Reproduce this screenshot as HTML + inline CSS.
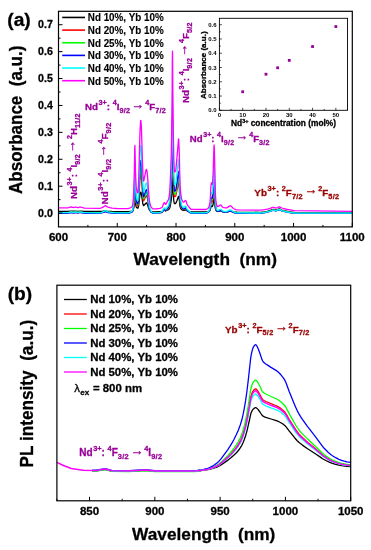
<!DOCTYPE html>
<html><head><meta charset="utf-8"><style>
html,body{margin:0;padding:0;background:#fff;width:371px;height:550px;overflow:hidden}
text{stroke-width:0.3px;paint-order:stroke;stroke-linejoin:round}
text.ni{stroke:none}
body{position:relative}
</style></head><body>
<svg width="371" height="550" viewBox="0 0 371 550" style="position:absolute;left:0;top:0">
<rect width="371" height="550" fill="#fff"/>
<clipPath id="ca"><rect x="58.5" y="11.3" width="293.8" height="215.6"/></clipPath>
<g clip-path="url(#ca)" fill="none" stroke-width="1.3" stroke-linejoin="round">
<polyline stroke="#000000" points="58.5,211.3 67.6,211.3 71.4,211.1 73.2,211.2 75.4,211.2 77.9,211.3 80.5,211.2 84.8,211.4 99.8,211.5 101.8,211.4 105.5,210.9 107.9,211.3 112.1,211.5 116.7,211.6 127.8,211.6 129.6,211.5 131.7,211.3 132.5,211.0 132.8,210.7 133.3,209.7 133.7,208.2 134.0,206.4 134.3,204.0 134.7,198.4 134.9,197.7 135.0,198.4 135.5,203.3 135.9,205.7 136.2,206.8 136.4,207.1 136.7,207.5 137.1,207.9 137.4,208.1 137.8,208.2 138.0,208.1 138.1,207.8 138.7,205.4 139.6,197.6 140.0,194.5 140.5,192.7 140.6,192.3 140.8,192.1 140.9,192.3 141.1,192.7 141.4,193.8 141.8,196.5 142.7,202.9 143.0,204.3 143.4,205.4 143.6,205.6 143.8,205.5 145.9,203.3 146.3,203.0 146.6,203.0 147.1,203.6 147.5,204.4 147.8,205.3 148.4,207.5 149.1,209.4 149.7,210.3 150.5,211.0 151.2,211.4 152.7,211.7 153.5,211.8 155.9,211.8 160.0,211.6 161.9,211.5 162.5,211.3 163.7,210.5 164.1,210.4 164.6,210.4 165.6,210.8 166.0,210.7 167.2,210.2 168.2,209.8 168.7,209.5 169.0,209.2 169.4,208.6 169.7,208.0 170.0,207.0 170.3,205.6 171.2,200.3 171.6,196.1 172.1,188.0 172.3,179.2 172.5,176.9 172.6,179.2 172.9,188.0 173.4,196.1 173.8,200.8 174.1,202.4 174.4,203.5 174.6,203.7 175.4,203.5 175.6,203.4 175.9,203.0 177.0,200.4 177.9,198.0 178.4,196.6 178.5,196.3 178.7,196.5 178.8,197.0 179.1,198.5 179.3,199.4 179.7,203.8 180.1,206.6 180.4,207.7 180.9,208.6 181.3,209.3 181.6,209.6 181.9,209.8 182.6,210.2 183.4,210.3 184.0,210.3 185.1,210.0 185.7,210.0 186.2,210.2 187.2,210.9 190.6,211.9 191.3,212.0 205.7,212.0 207.6,211.9 208.5,211.7 208.9,211.5 209.5,211.0 210.1,210.3 210.4,209.4 210.8,207.3 211.0,206.8 211.3,206.3 211.4,206.2 211.6,206.1 212.0,206.4 212.2,206.5 212.3,206.4 212.5,206.2 212.7,205.6 213.0,204.6 213.2,203.8 213.9,198.4 214.1,197.8 214.2,198.0 214.4,198.9 214.8,202.7 215.2,207.7 215.4,208.6 215.8,210.0 216.3,210.8 216.7,211.1 217.2,211.3 217.6,211.4 218.3,211.4 219.9,211.1 220.7,211.1 221.3,211.2 222.9,211.6 225.4,211.7 226.7,211.7 229.5,211.4 230.7,211.3 231.4,211.4 233.5,211.9 237.1,212.2 260.0,212.3 261.7,212.2 264.5,211.8 267.2,211.3 270.2,210.5 272.1,209.7 272.8,209.5 273.7,209.5 275.3,209.9 276.1,210.0 276.8,209.8 278.6,209.1 279.3,208.9 280.0,209.1 281.8,210.0 283.3,210.5 285.0,210.9 287.5,211.5 291.5,212.1 293.1,212.4 294.6,212.5 352.3,212.8"/>
<polyline stroke="#ff0000" points="58.5,212.6 67.6,212.7 70.5,212.3 71.4,212.3 73.2,212.5 75.4,212.3 77.9,212.5 79.8,212.3 80.5,212.3 84.8,212.7 99.8,212.7 100.7,212.6 101.8,212.4 103.5,212.1 104.9,211.6 105.5,211.5 106.1,211.6 107.9,212.2 109.9,212.4 112.1,212.6 116.7,212.7 127.8,212.8 128.6,212.7 129.6,212.5 130.9,212.2 131.7,212.0 132.5,211.4 132.8,210.8 133.3,208.8 133.7,205.9 134.0,202.5 134.3,197.7 134.7,186.8 134.9,185.3 135.0,186.7 135.5,196.3 135.9,201.1 136.2,203.3 136.4,203.8 136.7,204.5 137.1,205.3 137.4,205.7 137.7,205.9 137.8,205.9 138.0,205.7 138.1,205.1 138.7,200.5 139.6,185.1 140.0,179.0 140.5,175.4 140.6,174.6 140.8,174.3 140.9,174.6 141.1,175.4 141.4,177.6 141.8,182.9 142.4,191.8 142.7,195.4 143.0,198.2 143.4,200.5 143.6,200.8 143.7,200.7 143.8,200.6 144.1,200.1 144.7,198.7 145.9,196.2 146.2,195.8 146.3,195.7 146.5,195.6 146.6,195.7 146.8,196.0 147.1,196.8 147.5,198.4 147.8,200.1 148.4,204.5 149.1,208.1 149.4,209.2 149.7,210.0 150.5,211.2 150.9,211.8 151.2,212.0 151.9,212.4 152.7,212.6 153.5,212.8 155.9,212.7 160.0,212.5 161.0,212.3 161.9,212.1 162.2,212.0 162.5,211.7 163.7,210.3 164.1,210.0 164.3,210.0 164.6,210.1 165.6,210.7 165.7,210.8 166.0,210.7 167.2,209.6 168.2,208.9 168.7,208.3 169.0,207.7 169.4,206.5 169.7,205.3 170.0,203.2 170.3,200.5 171.2,190.1 171.6,181.9 172.1,166.0 172.3,148.8 172.5,144.2 172.6,148.8 172.9,166.0 173.4,181.9 173.8,191.1 174.1,194.3 174.4,196.4 174.6,196.7 175.0,196.6 175.4,196.4 175.6,196.2 175.9,195.4 177.0,190.2 177.9,185.5 178.4,182.8 178.5,182.3 178.7,182.6 178.8,183.5 179.1,186.4 179.3,188.3 179.7,196.9 180.1,202.4 180.4,204.6 180.9,206.4 181.3,207.7 181.6,208.3 181.9,208.7 182.6,209.4 183.4,209.7 183.7,209.7 184.0,209.7 185.1,209.1 185.4,209.0 185.7,209.0 186.2,209.4 186.9,210.5 187.2,210.8 188.1,211.4 190.6,212.7 191.3,212.8 205.7,212.9 206.6,212.8 207.6,212.5 208.5,212.1 208.9,211.7 209.5,210.8 210.1,209.4 210.4,207.5 210.8,203.4 211.0,202.6 211.3,201.6 211.4,201.3 211.6,201.2 212.0,201.8 212.2,201.9 212.3,201.8 212.5,201.4 212.7,200.1 213.0,198.3 213.2,196.6 213.9,185.9 214.1,184.8 214.2,185.2 214.4,187.0 214.8,194.5 215.2,204.2 215.4,206.0 215.8,208.7 216.3,210.3 216.4,210.6 216.7,211.0 217.2,211.3 217.6,211.5 218.3,211.4 219.9,210.9 220.7,210.8 221.3,211.0 222.4,211.7 222.9,211.8 225.4,212.1 226.7,212.0 229.5,211.3 230.7,211.2 231.4,211.4 232.9,212.1 233.5,212.3 235.5,212.7 237.1,212.9 259.9,212.9 262.4,212.7 265.2,212.3 267.2,211.9 270.2,211.0 272.1,210.3 272.8,210.1 273.7,210.0 275.3,210.5 276.1,210.6 276.8,210.4 278.6,209.6 279.3,209.5 280.0,209.7 281.8,210.6 283.3,211.0 285.0,211.4 287.5,212.0 291.5,212.6 293.1,212.9 294.6,213.0 352.3,213.1"/>
<polyline stroke="#00ff00" points="58.5,212.6 67.6,212.6 70.5,212.2 71.4,212.2 73.2,212.4 75.4,212.2 77.9,212.4 79.8,212.2 80.5,212.2 83.8,212.6 84.8,212.7 99.8,212.7 100.7,212.6 101.8,212.4 103.5,212.0 104.9,211.4 105.5,211.4 106.1,211.4 107.9,212.1 109.9,212.4 112.1,212.5 116.7,212.7 127.8,212.8 128.6,212.7 129.6,212.5 130.9,212.1 131.7,211.8 132.1,211.5 132.5,211.2 132.8,210.5 133.3,208.2 133.7,204.7 134.0,200.7 134.3,195.1 134.7,182.4 134.9,180.7 135.0,182.3 135.5,193.5 135.9,199.1 136.2,201.7 136.4,202.3 136.7,203.2 137.1,204.1 137.4,204.5 137.7,204.7 137.8,204.7 138.0,204.5 138.1,203.8 138.7,198.4 139.6,180.5 140.0,173.3 140.5,169.1 140.6,168.2 140.8,167.9 140.9,168.2 141.1,169.1 141.4,171.6 141.8,177.8 142.4,188.3 142.7,192.5 143.0,195.7 143.4,198.4 143.6,198.7 143.7,198.7 143.8,198.5 144.1,197.9 144.7,196.3 145.9,193.4 146.2,192.9 146.3,192.8 146.5,192.7 146.6,192.9 146.8,193.1 147.1,194.1 147.5,195.9 147.8,198.0 148.4,203.2 149.1,207.3 149.4,208.6 149.7,209.5 150.5,211.0 150.9,211.6 151.2,211.9 151.9,212.3 152.7,212.6 153.5,212.8 155.9,212.7 160.0,212.4 161.0,212.3 161.9,212.0 162.2,211.8 162.5,211.5 163.7,209.9 164.1,209.5 164.3,209.5 164.6,209.6 165.3,210.2 165.6,210.4 165.7,210.4 166.0,210.3 166.3,210.1 167.2,209.0 168.2,208.2 168.7,207.5 169.0,206.8 169.4,205.4 169.7,204.0 170.0,201.6 170.3,198.4 171.2,186.2 171.6,176.7 172.1,158.1 172.3,138.0 172.5,132.6 172.6,138.0 172.9,158.1 173.4,176.7 173.8,187.4 174.1,191.2 174.4,193.6 174.6,194.0 175.0,193.9 175.4,193.6 175.6,193.4 175.9,192.4 177.0,186.4 177.9,180.9 178.4,177.7 178.5,177.2 178.7,177.5 178.8,178.6 179.1,182.0 179.3,184.2 179.7,194.2 180.1,200.6 180.4,203.2 180.9,205.3 181.3,206.9 181.6,207.6 181.9,208.0 182.6,208.8 183.1,209.1 183.4,209.2 183.7,209.2 184.0,209.2 185.1,208.5 185.4,208.4 185.7,208.4 186.2,208.8 186.9,210.1 187.2,210.4 188.1,211.1 190.6,212.7 191.0,212.8 191.3,212.8 205.7,212.9 206.6,212.7 207.6,212.4 208.5,212.0 208.9,211.5 209.5,210.5 210.1,208.9 210.4,206.6 210.8,201.8 211.0,200.9 211.3,199.7 211.4,199.3 211.6,199.3 212.0,199.9 212.2,200.1 212.3,199.9 212.5,199.5 212.7,198.0 213.0,195.8 213.2,193.8 213.9,181.4 214.1,180.1 214.2,180.6 214.4,182.6 214.8,191.3 215.2,202.7 215.4,204.9 215.8,208.0 216.3,209.9 216.4,210.2 216.7,210.7 217.2,211.1 217.6,211.3 218.3,211.2 219.9,210.6 220.7,210.5 221.3,210.7 222.4,211.5 222.9,211.7 225.4,211.9 226.1,211.9 226.7,211.9 229.5,211.0 230.1,210.9 230.7,210.9 231.4,211.1 232.9,212.0 233.5,212.2 235.5,212.7 237.1,212.9 259.9,212.9 262.4,212.7 265.2,212.3 267.2,211.9 270.2,211.0 272.1,210.3 272.8,210.1 273.7,210.0 275.3,210.5 276.1,210.6 276.8,210.4 278.6,209.6 279.3,209.5 280.0,209.7 281.8,210.6 283.3,211.0 285.0,211.4 287.5,212.0 291.5,212.6 293.1,212.9 294.6,213.0 352.3,213.1"/>
<polyline stroke="#0000ff" points="58.5,213.3 67.6,213.3 68.5,213.2 70.5,212.8 71.4,212.7 73.2,213.0 75.4,212.7 76.0,212.7 77.9,213.0 79.8,212.7 80.5,212.7 81.6,212.8 83.8,213.2 84.8,213.3 99.8,213.3 100.7,213.2 101.8,212.9 103.5,212.4 104.9,211.8 105.5,211.7 106.1,211.8 107.4,212.4 107.9,212.5 109.9,212.9 112.1,213.1 116.7,213.3 127.8,213.3 128.6,213.2 129.6,213.0 130.9,212.6 131.7,212.2 132.1,211.9 132.5,211.4 132.8,210.6 133.3,207.9 133.7,203.9 134.0,199.2 134.3,192.6 134.7,177.6 134.9,175.6 135.0,177.5 135.5,190.7 135.9,197.3 136.2,200.3 136.4,201.0 136.7,202.0 137.1,203.1 137.4,203.6 137.7,203.8 137.8,203.9 138.0,203.6 138.1,202.8 138.7,196.5 139.6,175.4 140.0,167.0 140.5,162.0 140.6,161.0 140.8,160.5 140.9,161.0 141.1,162.0 141.4,165.0 141.8,172.3 142.4,184.5 142.7,189.5 143.0,193.3 143.4,196.4 143.6,196.8 143.7,196.8 143.8,196.6 144.1,195.8 144.7,193.9 145.9,190.5 146.2,189.9 146.3,189.8 146.5,189.7 146.6,189.9 146.8,190.2 147.1,191.3 147.5,193.5 147.8,195.9 148.4,202.0 149.1,206.8 149.4,208.3 149.7,209.4 150.5,211.2 150.9,211.9 151.2,212.2 151.9,212.7 152.7,213.1 153.5,213.3 155.9,213.2 160.0,212.9 161.0,212.6 161.9,212.3 162.2,212.1 162.5,211.8 163.7,209.8 164.1,209.5 164.3,209.4 164.6,209.5 165.3,210.2 165.6,210.4 165.7,210.5 166.0,210.3 166.3,210.0 167.2,208.9 168.2,207.8 168.7,207.1 169.0,206.3 169.4,204.6 169.7,202.9 170.0,200.1 170.3,196.4 171.2,182.0 171.6,170.9 172.1,149.1 172.3,125.4 172.5,119.1 172.6,125.4 172.9,149.1 173.4,170.9 173.8,183.5 174.1,187.9 174.4,190.7 174.6,191.2 175.0,191.0 175.4,190.7 175.6,190.4 175.9,189.3 177.0,182.2 177.9,175.8 178.4,172.0 178.5,171.4 178.7,171.7 178.8,173.0 179.1,177.1 179.3,179.7 179.7,191.4 180.1,199.0 180.4,202.0 180.9,204.5 181.3,206.3 181.6,207.1 181.9,207.6 182.6,208.5 183.1,208.9 183.4,209.0 183.7,209.1 184.0,209.0 185.1,208.2 185.4,208.0 185.7,208.0 185.9,208.2 186.2,208.6 186.9,210.0 187.2,210.5 188.1,211.3 190.6,213.1 191.0,213.2 191.3,213.3 205.7,213.3 206.6,213.1 207.6,212.7 208.5,212.2 208.9,211.7 209.5,210.5 210.1,208.6 210.4,206.0 210.8,200.3 211.0,199.2 211.3,197.8 211.4,197.4 211.6,197.3 212.0,198.1 212.2,198.2 212.3,198.0 212.5,197.5 212.7,195.8 213.0,193.2 213.2,190.9 213.9,176.3 214.1,174.7 214.2,175.4 214.4,177.7 214.8,188.0 215.2,201.4 215.4,203.9 215.8,207.5 216.3,209.7 216.4,210.2 216.7,210.7 217.2,211.1 217.6,211.4 217.9,211.4 218.3,211.3 219.9,210.6 220.7,210.5 221.0,210.5 221.3,210.7 222.4,211.6 222.9,211.8 224.1,212.0 225.4,212.1 226.1,212.2 226.7,212.1 229.5,211.1 230.1,211.0 230.7,210.9 231.4,211.2 232.9,212.2 233.5,212.5 235.5,213.0 237.1,213.3 259.8,213.3 262.3,213.0 265.2,212.6 267.1,212.2 270.2,211.4 272.1,210.6 272.8,210.4 273.7,210.4 275.3,210.8 276.1,210.9 276.8,210.7 278.6,209.9 279.3,209.8 280.0,210.0 281.8,210.9 283.3,211.3 285.0,211.7 287.5,212.3 291.5,212.9 293.1,213.1 294.6,213.3 352.3,213.3"/>
<polyline stroke="#00ffff" points="58.5,212.7 67.6,212.7 68.5,212.6 70.5,212.1 71.4,212.0 73.2,212.4 75.4,212.0 76.0,212.0 77.3,212.3 77.9,212.4 78.5,212.3 79.8,212.0 80.5,212.0 81.6,212.1 83.8,212.6 84.8,212.7 99.8,212.8 100.7,212.6 101.8,212.3 103.5,211.7 104.9,210.8 105.5,210.7 106.1,210.9 107.4,211.6 107.9,211.8 109.9,212.2 112.1,212.5 114.6,212.7 116.7,212.8 127.8,212.8 128.6,212.7 129.6,212.4 130.9,211.9 131.7,211.4 132.1,211.0 132.5,210.4 132.8,209.4 133.3,205.9 133.7,200.8 134.0,194.8 134.3,186.3 134.7,167.3 134.9,164.7 135.0,167.1 135.5,183.9 135.9,192.4 136.2,196.2 136.4,197.2 136.7,198.4 137.1,199.8 137.4,200.4 137.7,200.7 137.8,200.8 138.0,200.4 138.1,199.4 138.7,191.3 139.6,164.4 140.0,153.6 140.5,147.3 140.6,146.0 140.8,145.4 140.9,146.0 141.1,147.3 141.4,151.1 141.8,160.4 142.4,176.1 142.7,182.4 143.0,187.2 143.4,191.2 143.6,191.7 143.7,191.7 143.8,191.4 144.1,190.5 144.7,188.1 145.9,183.7 146.2,183.0 146.3,182.8 146.5,182.8 146.6,182.9 146.8,183.4 147.1,184.7 147.5,187.6 147.8,190.6 148.4,198.4 149.1,204.6 149.4,206.5 149.7,207.9 150.5,210.1 150.9,211.0 151.2,211.5 151.9,212.1 152.7,212.6 153.1,212.7 153.5,212.8 155.9,212.8 158.0,212.6 160.0,212.3 161.0,212.0 161.9,211.6 162.2,211.4 162.5,210.9 163.7,208.4 164.1,207.9 164.3,207.9 164.6,208.0 165.3,208.9 165.6,209.2 165.7,209.2 166.0,209.1 166.3,208.7 167.2,207.2 168.2,205.9 168.7,204.9 169.0,203.9 169.4,201.7 169.7,199.6 170.0,196.1 170.3,191.2 171.2,173.0 171.6,158.7 172.1,130.8 172.3,100.6 172.5,92.6 172.6,100.6 172.9,130.8 173.4,158.7 173.8,174.8 174.1,180.4 174.4,184.0 174.6,184.6 175.0,184.4 175.4,184.0 175.6,183.7 175.9,182.2 177.0,173.2 177.9,165.0 178.4,160.2 178.5,159.4 178.7,159.8 178.8,161.5 179.1,166.6 179.3,169.9 179.7,184.9 180.1,194.6 180.4,198.4 180.9,201.6 181.3,203.9 181.6,205.0 181.9,205.6 182.6,206.8 183.1,207.2 183.4,207.4 183.7,207.5 184.0,207.4 185.1,206.3 185.4,206.2 185.7,206.2 185.9,206.3 186.2,206.9 186.9,208.7 187.2,209.3 188.1,210.3 190.6,212.6 191.0,212.8 191.3,212.9 205.7,212.9 206.6,212.7 207.6,212.2 208.5,211.6 208.9,210.9 209.5,209.3 210.1,206.9 210.4,203.6 210.8,196.3 211.0,194.9 211.3,193.1 211.4,192.6 211.6,192.5 212.0,193.5 212.2,193.7 212.3,193.4 212.5,192.8 212.7,190.5 213.0,187.3 213.2,184.4 213.9,165.7 214.1,163.7 214.2,164.5 214.4,167.5 214.8,180.6 215.2,197.7 215.4,200.9 215.8,205.5 216.3,208.4 216.4,208.9 216.7,209.6 217.2,210.2 217.6,210.5 217.9,210.5 218.3,210.4 219.9,209.5 220.4,209.3 220.7,209.3 221.0,209.4 221.3,209.6 222.4,210.8 222.9,211.1 224.1,211.3 225.4,211.5 226.1,211.5 226.7,211.4 227.4,211.1 229.5,210.1 230.1,210.0 230.7,209.9 231.0,210.0 231.4,210.3 232.9,211.5 233.5,211.9 235.5,212.6 237.1,212.9 259.6,213.0 260.8,212.9 262.1,212.8 265.0,212.3 267.1,211.9 270.2,211.1 272.1,210.3 272.8,210.1 273.7,210.1 275.3,210.5 276.1,210.6 276.8,210.4 278.6,209.6 279.3,209.5 280.0,209.7 281.8,210.6 283.3,211.0 285.0,211.5 287.5,212.0 291.5,212.6 293.1,212.9 294.6,213.0 352.3,213.1"/>
<polyline stroke="#ff00ff" points="58.5,207.8 67.6,207.9 68.5,207.7 70.5,207.1 71.4,207.0 71.9,207.1 72.7,207.4 73.2,207.5 73.8,207.4 75.4,207.1 76.0,207.1 77.3,207.5 77.9,207.6 78.5,207.5 79.8,207.1 80.5,207.1 81.6,207.3 83.8,208.0 84.8,208.1 99.8,208.3 100.7,208.1 101.8,207.7 103.5,206.9 104.9,205.8 105.5,205.7 105.8,205.7 106.1,205.9 107.4,206.9 107.9,207.1 109.9,207.7 112.1,208.1 114.6,208.3 116.7,208.5 127.8,208.6 128.6,208.5 129.6,208.1 130.9,207.5 131.7,206.9 132.1,206.3 132.5,205.5 132.8,204.2 133.3,199.6 133.7,192.9 134.0,185.0 134.3,173.9 134.7,148.9 134.9,145.5 135.0,148.7 135.5,170.8 135.9,181.9 136.2,186.9 136.4,188.2 136.7,189.8 137.1,191.7 137.4,192.5 137.7,192.9 137.8,192.9 138.0,192.5 138.1,191.1 138.7,180.5 139.6,145.2 140.0,131.1 140.5,122.8 140.6,121.0 140.8,120.3 140.9,121.0 141.1,122.8 141.4,127.7 141.8,140.0 142.4,160.5 142.7,168.9 143.0,175.2 143.4,180.5 143.6,181.1 143.7,181.1 143.8,180.8 144.1,179.5 144.7,176.3 145.9,170.6 146.2,169.7 146.3,169.4 146.5,169.4 146.6,169.6 146.8,170.2 147.1,172.0 147.5,175.7 147.8,179.7 148.4,189.9 149.1,198.1 149.4,200.6 149.7,202.4 150.5,205.4 150.9,206.6 151.2,207.1 151.9,208.0 152.7,208.6 153.1,208.8 153.5,208.9 155.9,208.9 158.0,208.6 160.0,208.3 161.0,207.9 161.9,207.5 162.2,207.1 162.5,206.5 163.7,203.3 164.0,202.8 164.1,202.6 164.3,202.6 164.6,202.8 165.3,204.0 165.6,204.3 165.7,204.3 166.0,204.1 166.3,203.7 167.2,201.7 167.9,200.5 168.2,200.0 168.7,198.7 169.0,197.3 169.4,194.5 169.7,191.8 170.0,187.1 170.3,180.8 171.2,156.7 171.6,138.1 172.1,101.4 172.3,61.7 172.5,51.2 172.6,61.7 172.9,101.5 173.4,138.1 173.8,159.2 174.1,166.5 174.4,171.3 174.6,172.1 174.7,172.0 175.0,171.8 175.4,171.3 175.6,170.9 175.9,169.0 177.0,157.1 177.9,146.4 178.4,140.0 178.5,139.0 178.7,139.6 178.8,141.7 179.1,148.5 179.3,152.8 179.7,172.5 180.1,185.2 180.4,190.3 180.9,194.5 181.3,197.5 181.6,198.9 181.9,199.8 182.6,201.3 183.1,201.9 183.4,202.1 183.7,202.2 184.0,202.1 184.2,201.8 185.1,200.7 185.4,200.5 185.6,200.5 185.7,200.5 185.9,200.7 186.2,201.4 186.9,203.9 187.2,204.6 188.1,205.9 190.6,209.0 191.0,209.3 191.3,209.4 205.7,209.5 206.6,209.3 207.6,208.7 208.5,207.8 208.9,207.0 209.5,204.9 210.1,201.7 210.4,197.3 210.8,187.8 211.0,185.9 211.3,183.6 211.4,182.9 211.6,182.8 212.0,184.1 212.2,184.4 212.3,184.0 212.5,183.2 212.7,180.2 213.0,176.0 213.2,172.1 213.9,147.6 214.1,145.0 214.2,146.0 214.4,150.0 214.8,167.2 215.2,189.7 215.4,193.9 215.8,200.0 216.3,203.7 216.4,204.5 216.7,205.3 217.2,206.1 217.6,206.5 217.9,206.5 218.3,206.4 219.9,205.2 220.4,205.0 220.7,205.0 221.0,205.1 221.3,205.3 222.4,206.9 222.9,207.3 224.5,207.7 225.4,207.9 226.1,207.9 226.6,207.8 227.1,207.6 229.5,206.1 230.1,205.9 230.7,205.9 231.0,206.0 231.4,206.4 232.9,208.0 233.5,208.5 234.8,209.2 235.8,209.6 236.7,209.8 237.6,209.9 259.5,210.2 260.6,210.2 264.7,209.6 267.4,209.1 270.2,208.4 272.1,207.6 272.8,207.4 273.7,207.4 275.3,207.9 276.1,208.0 276.8,207.8 278.6,207.0 279.3,206.9 280.0,207.1 281.8,208.0 283.3,208.5 285.0,208.9 287.5,209.5 291.5,210.2 293.1,210.5 294.6,210.6 352.3,211.3"/>
</g>
<rect x="58.5" y="11.3" width="293.8" height="215.6" fill="none" stroke="#000" stroke-width="1.2"/>
<path d="M58.5,213.10h4.0M58.5,199.64h2.0M58.5,186.19h4.0M58.5,172.73h2.0M58.5,159.28h4.0M58.5,145.82h2.0M58.5,132.37h4.0M58.5,118.91h2.0M58.5,105.46h4.0M58.5,92.00h2.0M58.5,78.55h4.0M58.5,65.09h2.0M58.5,51.64h4.0M58.5,38.18h2.0M58.5,24.73h4.0M58.50,226.9v-4.0M87.88,226.9v-2.0M117.26,226.9v-4.0M146.64,226.9v-2.0M176.02,226.9v-4.0M205.40,226.9v-2.0M234.78,226.9v-4.0M264.16,226.9v-2.0M293.54,226.9v-4.0M322.92,226.9v-2.0M352.30,226.9v-4.0" stroke="#000" stroke-width="1" fill="none"/>
<text x="52.8" y="216.55" text-anchor="end" style="font-family:'Liberation Sans',Arial,sans-serif;font-weight:bold;font-size:10.6px" stroke="#000">0.0</text>
<text x="52.8" y="189.64" text-anchor="end" style="font-family:'Liberation Sans',Arial,sans-serif;font-weight:bold;font-size:10.6px" stroke="#000">0.1</text>
<text x="52.8" y="162.73" text-anchor="end" style="font-family:'Liberation Sans',Arial,sans-serif;font-weight:bold;font-size:10.6px" stroke="#000">0.2</text>
<text x="52.8" y="135.82" text-anchor="end" style="font-family:'Liberation Sans',Arial,sans-serif;font-weight:bold;font-size:10.6px" stroke="#000">0.3</text>
<text x="52.8" y="108.91" text-anchor="end" style="font-family:'Liberation Sans',Arial,sans-serif;font-weight:bold;font-size:10.6px" stroke="#000">0.4</text>
<text x="52.8" y="82.00" text-anchor="end" style="font-family:'Liberation Sans',Arial,sans-serif;font-weight:bold;font-size:10.6px" stroke="#000">0.5</text>
<text x="52.8" y="55.09" text-anchor="end" style="font-family:'Liberation Sans',Arial,sans-serif;font-weight:bold;font-size:10.6px" stroke="#000">0.6</text>
<text x="52.8" y="28.18" text-anchor="end" style="font-family:'Liberation Sans',Arial,sans-serif;font-weight:bold;font-size:10.6px" stroke="#000">0.7</text>
<text x="58.50" y="241.2" text-anchor="middle" style="font-family:'Liberation Sans',Arial,sans-serif;font-weight:bold;font-size:11.5px" stroke="#000">600</text>
<text x="117.26" y="241.2" text-anchor="middle" style="font-family:'Liberation Sans',Arial,sans-serif;font-weight:bold;font-size:11.5px" stroke="#000">700</text>
<text x="176.02" y="241.2" text-anchor="middle" style="font-family:'Liberation Sans',Arial,sans-serif;font-weight:bold;font-size:11.5px" stroke="#000">800</text>
<text x="234.78" y="241.2" text-anchor="middle" style="font-family:'Liberation Sans',Arial,sans-serif;font-weight:bold;font-size:11.5px" stroke="#000">900</text>
<text x="293.54" y="241.2" text-anchor="middle" style="font-family:'Liberation Sans',Arial,sans-serif;font-weight:bold;font-size:11.5px" stroke="#000">1000</text>
<text x="352.30" y="241.2" text-anchor="middle" style="font-family:'Liberation Sans',Arial,sans-serif;font-weight:bold;font-size:11.5px" stroke="#000">1100</text>
<text x="7.3" y="25.6" style="font-family:'Liberation Sans',Arial,sans-serif;font-weight:bold;font-size:19.2px" stroke="#000">(a)</text>
<text transform="translate(22.3,193.9) rotate(-90) scale(1,1.045)" style="font-family:'Liberation Sans',Arial,sans-serif;font-weight:bold;font-size:17px" xml:space="preserve" stroke="#000">Absorbance  (a.u.)</text>
<text x="133.6" y="265.4" style="font-family:'Liberation Sans',Arial,sans-serif;font-weight:bold;font-size:17.3px" xml:space="preserve" stroke="#000">Wavelength  (nm)</text>
<line x1="62.2" x2="85.0" y1="17.45" y2="17.45" stroke="#000000" stroke-width="1.6"/>
<text transform="translate(87.8,21.30) scale(1,1.1)" style="font-family:'Liberation Sans',Arial,sans-serif;font-weight:bold;font-size:9.85px;stroke-width:0.12px" stroke="#000">Nd 10%, Yb 10%</text>
<line x1="62.2" x2="85.0" y1="30.10" y2="30.10" stroke="#ff0000" stroke-width="1.6"/>
<text transform="translate(87.8,33.95) scale(1,1.1)" style="font-family:'Liberation Sans',Arial,sans-serif;font-weight:bold;font-size:9.85px;stroke-width:0.12px" stroke="#000">Nd 20%, Yb 10%</text>
<line x1="62.2" x2="85.0" y1="42.75" y2="42.75" stroke="#00ff00" stroke-width="1.6"/>
<text transform="translate(87.8,46.60) scale(1,1.1)" style="font-family:'Liberation Sans',Arial,sans-serif;font-weight:bold;font-size:9.85px;stroke-width:0.12px" stroke="#000">Nd 25%, Yb 10%</text>
<line x1="62.2" x2="85.0" y1="55.40" y2="55.40" stroke="#0000ff" stroke-width="1.6"/>
<text transform="translate(87.8,59.25) scale(1,1.1)" style="font-family:'Liberation Sans',Arial,sans-serif;font-weight:bold;font-size:9.85px;stroke-width:0.12px" stroke="#000">Nd 30%, Yb 10%</text>
<line x1="62.2" x2="85.0" y1="68.05" y2="68.05" stroke="#00ffff" stroke-width="1.6"/>
<text transform="translate(87.8,71.90) scale(1,1.1)" style="font-family:'Liberation Sans',Arial,sans-serif;font-weight:bold;font-size:9.85px;stroke-width:0.12px" stroke="#000">Nd 40%, Yb 10%</text>
<line x1="62.2" x2="85.0" y1="80.70" y2="80.70" stroke="#ff00ff" stroke-width="1.6"/>
<text transform="translate(87.8,84.55) scale(1,1.1)" style="font-family:'Liberation Sans',Arial,sans-serif;font-weight:bold;font-size:9.85px;stroke-width:0.12px" stroke="#000">Nd 50%, Yb 10%</text>
<clipPath id="cb"><rect x="56.9" y="285.2" width="293.8" height="215.6"/></clipPath>
<g clip-path="url(#cb)" fill="none" stroke-width="1.3" stroke-linejoin="round">
<polyline stroke="#000000" points="92.2,470.8 96.1,470.9 105.2,469.3 111.7,471.1 128.7,471.3 145.7,470.3 154.8,471.3 195.3,471.3 197.3,471.2 199.9,471.0 200.5,470.6 205.1,470.0 209.0,469.4 211.0,468.9 212.9,468.4 216.9,467.1 218.8,466.2 221.4,464.6 228.0,460.1 231.2,457.6 233.8,455.3 236.4,452.7 238.4,450.5 240.4,447.7 241.7,445.6 243.0,442.8 244.3,439.5 245.6,435.7 246.2,433.6 246.9,431.1 248.2,425.7 248.8,423.0 250.2,416.6 250.8,413.8 251.5,412.1 252.1,410.7 252.8,409.6 253.4,408.9 254.7,407.9 255.4,407.6 256.0,407.7 256.7,408.1 258.0,409.4 259.9,412.0 261.9,415.0 262.6,415.7 263.2,416.2 264.5,416.8 265.8,417.3 271.0,419.0 275.6,420.4 277.6,421.1 279.5,422.0 280.8,422.7 282.1,423.5 283.5,424.4 284.8,425.5 286.1,426.9 289.3,431.2 294.6,437.7 297.2,440.7 299.1,442.5 300.4,443.6 302.4,445.1 307.6,448.8 316.1,454.2 320.7,457.4 322.6,458.7 325.9,460.5 329.8,462.3 332.4,463.3 335.7,464.3 338.9,465.1 341.6,465.6 346.8,466.4 350.7,466.7"/>
<polyline stroke="#ff0000" points="92.2,470.7 96.1,470.8 105.2,469.2 111.7,471.0 128.7,471.2 145.7,470.2 154.8,471.2 195.3,471.2 197.3,471.1 199.9,470.8 200.5,470.5 204.5,469.8 208.4,469.1 210.3,468.5 212.3,467.9 214.2,467.1 216.9,465.9 218.8,464.7 220.1,463.8 221.4,462.7 228.0,456.9 231.2,453.7 233.8,450.7 236.4,447.3 238.4,444.4 240.4,440.9 241.7,438.1 243.0,434.5 244.3,430.2 245.6,425.4 246.2,422.5 246.9,419.3 248.2,412.4 248.8,408.8 250.2,400.5 250.8,397.0 251.5,394.7 252.1,392.9 252.8,391.5 253.4,390.5 254.1,389.8 254.7,389.3 255.4,388.9 256.0,389.0 256.7,389.6 258.0,391.2 259.9,394.5 261.9,398.5 262.6,399.4 263.2,400.0 264.5,400.8 265.8,401.5 271.0,403.7 275.6,405.5 277.6,406.4 279.5,407.5 280.8,408.4 282.1,409.5 283.5,410.7 284.8,412.0 285.4,412.9 286.1,413.8 289.3,419.5 294.6,427.9 295.9,429.9 297.2,431.7 299.1,434.1 300.4,435.5 302.4,437.5 307.6,442.2 316.1,449.3 320.7,453.4 322.6,455.0 323.9,456.0 325.9,457.4 327.8,458.6 329.8,459.8 332.4,461.1 335.7,462.4 338.9,463.4 341.6,464.0 346.8,465.0 348.7,465.3 350.7,465.4"/>
<polyline stroke="#00ff00" points="92.2,471.0 96.1,471.1 105.2,469.5 111.7,471.3 128.7,471.5 145.7,470.5 154.8,471.5 195.3,471.5 197.3,471.3 199.9,471.0 200.5,470.4 205.1,469.6 207.7,469.0 209.0,468.7 211.0,468.0 212.9,467.3 214.9,466.4 216.9,465.3 218.8,464.1 220.1,463.0 221.4,461.9 228.0,455.4 231.2,451.8 233.8,448.5 236.4,444.8 238.4,441.5 240.4,437.7 241.7,434.6 243.0,430.6 244.3,425.9 245.6,420.5 246.2,417.3 246.9,413.8 248.2,406.1 248.8,402.1 250.2,393.0 250.8,389.1 251.5,386.5 252.1,384.5 252.8,383.0 253.4,381.9 254.1,381.1 254.7,380.5 255.4,380.1 256.0,380.2 256.7,380.9 258.0,382.7 259.9,386.3 261.9,390.8 262.6,391.8 263.2,392.4 264.5,393.3 265.8,394.0 271.0,396.5 275.6,398.5 277.6,399.5 279.5,400.7 280.8,401.7 282.1,402.9 283.5,404.2 284.8,405.7 285.4,406.6 286.1,407.7 289.3,413.9 294.6,423.3 295.9,425.5 297.2,427.5 299.1,430.2 300.4,431.7 302.4,433.9 307.6,439.1 316.1,447.0 320.7,451.5 322.6,453.3 323.9,454.4 325.9,455.9 327.8,457.3 329.8,458.6 332.4,460.0 335.7,461.4 338.9,462.6 341.6,463.3 344.2,463.9 346.8,464.4 348.7,464.6 350.7,464.8"/>
<polyline stroke="#0000ff" points="92.2,470.1 96.1,470.2 105.2,468.6 111.7,470.4 128.7,470.6 145.7,469.6 154.8,470.6 195.3,470.6 197.3,470.4 199.9,470.0 200.5,470.2 203.8,469.4 207.7,468.3 209.7,467.5 212.3,466.2 214.2,465.0 216.9,463.1 217.5,462.6 218.8,461.4 220.1,459.9 221.4,458.3 228.0,449.3 229.9,446.4 231.2,444.3 232.5,442.1 233.8,439.8 236.4,434.5 238.4,430.0 239.7,426.5 240.4,424.6 241.7,420.3 243.0,414.9 244.3,408.3 245.6,400.7 246.2,396.4 246.9,391.5 248.2,380.7 248.8,375.2 250.2,362.5 250.8,357.1 251.5,353.5 252.1,350.8 252.8,348.6 253.4,347.1 254.1,346.0 254.7,345.2 255.4,344.7 256.0,344.8 256.7,345.7 258.0,348.2 259.9,353.3 261.3,357.5 261.9,359.4 262.6,360.8 263.2,361.7 264.5,363.0 265.8,364.0 268.4,365.6 271.0,367.4 275.6,370.1 277.6,371.5 279.5,373.3 280.8,374.7 282.1,376.3 283.5,378.1 284.8,380.2 285.4,381.5 286.1,383.0 289.3,391.7 294.6,404.7 295.9,407.7 297.2,410.6 299.1,414.2 300.4,416.4 302.4,419.4 307.6,426.6 309.6,429.2 316.1,437.6 320.7,443.9 322.6,446.4 323.9,448.0 325.9,450.0 327.8,452.0 329.8,453.7 331.1,454.8 332.4,455.7 335.7,457.7 337.6,458.7 338.9,459.3 341.6,460.3 344.2,461.1 346.8,461.8 348.7,462.1 350.7,462.4"/>
<polyline stroke="#00ffff" points="92.2,470.6 96.1,470.7 105.2,469.1 111.7,470.9 128.7,471.1 145.7,470.1 154.8,471.1 195.3,471.1 197.3,471.0 199.9,470.7 200.5,470.5 204.5,469.9 208.4,469.2 210.3,468.7 212.3,468.1 214.2,467.3 216.9,466.2 218.8,465.1 220.1,464.2 221.4,463.3 228.0,457.8 231.2,454.7 233.8,452.0 236.4,448.8 238.4,446.0 240.4,442.8 241.7,440.1 243.0,436.8 244.3,432.8 245.6,428.2 246.2,425.5 246.9,422.5 248.2,416.0 248.8,412.6 250.2,404.9 250.8,401.6 251.5,399.4 252.1,397.8 252.8,396.4 253.4,395.5 254.1,394.9 254.7,394.3 255.4,394.0 256.0,394.1 256.7,394.7 258.0,396.2 259.9,399.3 261.9,403.0 262.6,403.9 263.2,404.4 264.5,405.2 265.8,405.8 271.0,407.9 275.6,409.6 277.6,410.4 279.5,411.5 280.8,412.3 282.1,413.3 283.5,414.4 284.8,415.7 286.1,417.4 289.3,422.7 294.6,430.6 295.9,432.5 297.2,434.2 299.1,436.4 300.4,437.8 302.4,439.6 307.6,444.0 316.1,450.6 320.7,454.5 322.6,456.0 323.9,457.0 325.9,458.2 327.8,459.4 329.8,460.5 332.4,461.7 335.7,462.9 338.9,463.9 341.6,464.5 346.8,465.4 350.7,465.8"/>
<polyline stroke="#ff00ff" stroke-width="1.45" points="56.9,462.3 63.4,465.5 71.3,468.5 83.0,470.3 96.1,470.6 105.2,469.0 111.7,470.8 128.7,471.0 145.7,470.0 154.8,471.0 194.7,471.0 196.6,470.9 198.6,470.7 201.2,470.4 203.8,470.0 208.4,469.1 210.3,468.6 212.3,467.9 214.2,467.2 216.9,466.0 218.2,465.3 219.5,464.4 222.1,462.4 228.6,456.6 230.6,454.7 231.9,453.4 234.5,450.4 237.1,447.0 238.4,445.0 239.7,442.8 241.0,440.3 241.7,438.8 242.3,437.2 243.6,433.4 245.6,426.4 246.2,423.7 246.9,420.5 248.2,413.7 248.8,410.2 250.2,402.1 250.8,398.7 251.5,396.4 252.1,394.7 252.8,393.3 253.4,392.4 254.1,391.7 254.7,391.2 255.4,390.8 256.0,390.9 256.7,391.5 258.0,393.1 259.9,396.3 261.9,400.2 262.6,401.1 263.2,401.6 264.5,402.5 265.8,403.1 271.0,405.3 275.6,407.0 277.6,407.9 279.5,409.0 280.8,409.9 282.1,410.9 283.5,412.1 284.8,413.4 286.1,415.2 289.3,420.7 294.6,428.9 295.9,430.9 297.2,432.7 299.1,435.0 300.4,436.4 302.4,438.3 307.6,442.9 316.1,449.8 320.7,453.8 322.6,455.4 323.9,456.4 325.9,457.7 327.8,458.9 329.8,460.0 332.4,461.3 335.7,462.6 338.9,463.6 341.6,464.2 346.8,465.1 348.7,465.4 350.7,465.5"/>
</g>
<rect x="56.9" y="285.2" width="293.8" height="215.6" fill="none" stroke="#000" stroke-width="1.2"/>
<path d="M56.90,500.8v-2.0M89.54,500.8v-4.0M122.19,500.8v-2.0M154.83,500.8v-4.0M187.48,500.8v-2.0M220.12,500.8v-4.0M252.77,500.8v-2.0M285.41,500.8v-4.0M318.06,500.8v-2.0M350.70,500.8v-4.0" stroke="#000" stroke-width="1" fill="none"/>
<text x="89.54" y="515.2" text-anchor="middle" style="font-family:'Liberation Sans',Arial,sans-serif;font-weight:bold;font-size:11.5px" stroke="#000">850</text>
<text x="154.83" y="515.2" text-anchor="middle" style="font-family:'Liberation Sans',Arial,sans-serif;font-weight:bold;font-size:11.5px" stroke="#000">900</text>
<text x="220.12" y="515.2" text-anchor="middle" style="font-family:'Liberation Sans',Arial,sans-serif;font-weight:bold;font-size:11.5px" stroke="#000">950</text>
<text x="285.41" y="515.2" text-anchor="middle" style="font-family:'Liberation Sans',Arial,sans-serif;font-weight:bold;font-size:11.5px" stroke="#000">1000</text>
<text x="350.70" y="515.2" text-anchor="middle" style="font-family:'Liberation Sans',Arial,sans-serif;font-weight:bold;font-size:11.5px" stroke="#000">1050</text>
<text x="7.7" y="300.3" style="font-family:'Liberation Sans',Arial,sans-serif;font-weight:bold;font-size:19.2px" stroke="#000">(b)</text>
<text transform="translate(32.6,467.5) rotate(-90) scale(1,1.045)" style="font-family:'Liberation Sans',Arial,sans-serif;font-weight:bold;font-size:17.2px" xml:space="preserve" stroke="#000">PL intensity  (a.u.)</text>
<text x="132.0" y="539.5" style="font-family:'Liberation Sans',Arial,sans-serif;font-weight:bold;font-size:17.3px" xml:space="preserve" stroke="#000">Wavelength  (nm)</text>
<line x1="64" x2="86.8" y1="299.50" y2="299.50" stroke="#000000" stroke-width="1.3"/>
<text x="90.2" y="303.20" style="font-family:'Liberation Sans',Arial,sans-serif;font-weight:bold;font-size:11.4px" stroke="#000">Nd 10%, Yb 10%</text>
<line x1="64" x2="86.8" y1="314.00" y2="314.00" stroke="#ff0000" stroke-width="1.3"/>
<text x="90.2" y="317.70" style="font-family:'Liberation Sans',Arial,sans-serif;font-weight:bold;font-size:11.4px" stroke="#000">Nd 20%, Yb 10%</text>
<line x1="64" x2="86.8" y1="328.50" y2="328.50" stroke="#00ff00" stroke-width="1.3"/>
<text x="90.2" y="332.20" style="font-family:'Liberation Sans',Arial,sans-serif;font-weight:bold;font-size:11.4px" stroke="#000">Nd 25%, Yb 10%</text>
<line x1="64" x2="86.8" y1="343.00" y2="343.00" stroke="#0000ff" stroke-width="1.3"/>
<text x="90.2" y="346.70" style="font-family:'Liberation Sans',Arial,sans-serif;font-weight:bold;font-size:11.4px" stroke="#000">Nd 30%, Yb 10%</text>
<line x1="64" x2="86.8" y1="357.50" y2="357.50" stroke="#00ffff" stroke-width="1.3"/>
<text x="90.2" y="361.20" style="font-family:'Liberation Sans',Arial,sans-serif;font-weight:bold;font-size:11.4px" stroke="#000">Nd 40%, Yb 10%</text>
<line x1="64" x2="86.8" y1="372.00" y2="372.00" stroke="#ff00ff" stroke-width="1.3"/>
<text x="90.2" y="375.70" style="font-family:'Liberation Sans',Arial,sans-serif;font-weight:bold;font-size:11.4px" stroke="#000">Nd 50%, Yb 10%</text>
<text x="74.3" y="391.8" style="font-family:'Liberation Sans',Arial,sans-serif;font-weight:bold;font-size:11.4px" stroke="#000"><tspan style="font-weight:normal">&#955;</tspan><tspan dx="0.3" dy="3.5" font-size="8">ex</tspan><tspan dx="0.6" dy="-3.5" xml:space="preserve"> = 800 nm</tspan></text>
<text transform="translate(76.60,199.00) rotate(-90)" fill="#990099" style="font-family:'Liberation Sans',Arial,sans-serif;font-weight:bold;font-size:9.70px" stroke="#990099">Nd<tspan dx="0.6" dy="-4.85" font-size="7.18">3+</tspan><tspan dy="4.85">:</tspan><tspan dx="2.6" dy="-4.85" font-size="7.18">4</tspan><tspan dy="4.85">I</tspan><tspan dy="2.91" font-size="7.18" letter-spacing="0.3">9/2</tspan><tspan dx="1.2" dy="-4.31" font-size="12.80">&#8594;</tspan><tspan dx="0.9" dy="-3.45" font-size="7.18">2</tspan><tspan dy="4.85">H</tspan><tspan dy="2.91" font-size="7.18" letter-spacing="0.3">11/2</tspan></text>
<text transform="translate(107.60,204.40) rotate(-90)" fill="#990099" style="font-family:'Liberation Sans',Arial,sans-serif;font-weight:bold;font-size:9.85px" stroke="#990099">Nd<tspan dx="0.6" dy="-4.92" font-size="7.29">3+</tspan><tspan dy="4.92">:</tspan><tspan dx="2.6" dy="-4.92" font-size="7.29">4</tspan><tspan dy="4.92">I</tspan><tspan dy="2.95" font-size="7.29" letter-spacing="0.3">9/2</tspan><tspan dx="1.2" dy="-4.35" font-size="13.00">&#8594;</tspan><tspan dx="0.9" dy="-3.52" font-size="7.29">4</tspan><tspan dy="4.92">F</tspan><tspan dy="2.95" font-size="7.29" letter-spacing="0.3">9/2</tspan></text>
<text x="85.00" y="110.30" fill="#990099" style="font-family:'Liberation Sans',Arial,sans-serif;font-weight:bold;font-size:9.75px" stroke="#990099">Nd<tspan dx="0.6" dy="-4.88" font-size="7.21">3+</tspan><tspan dy="4.88">:</tspan><tspan dx="2.6" dy="-4.88" font-size="7.21">4</tspan><tspan dy="4.88">I</tspan><tspan dy="2.92" font-size="7.21" letter-spacing="0.3">9/2</tspan><tspan dx="1.2" dy="-4.32" font-size="12.87">&#8594;</tspan><tspan dx="0.9" dy="-3.48" font-size="7.21">4</tspan><tspan dy="4.88">F</tspan><tspan dy="2.92" font-size="7.21" letter-spacing="0.3">7/2</tspan></text>
<text transform="translate(188.60,102.90) rotate(-90)" fill="#990099" style="font-family:'Liberation Sans',Arial,sans-serif;font-weight:bold;font-size:9.70px" stroke="#990099">Nd<tspan dx="0.6" dy="-4.85" font-size="7.18">3+</tspan><tspan dy="4.85">:</tspan><tspan dx="2.6" dy="-4.85" font-size="7.18">4</tspan><tspan dy="4.85">I</tspan><tspan dy="2.91" font-size="7.18" letter-spacing="0.3">9/2</tspan><tspan dx="1.2" dy="-4.31" font-size="12.80">&#8594;</tspan><tspan dx="0.9" dy="-3.45" font-size="7.18">4</tspan><tspan dy="4.85">F</tspan><tspan dy="2.91" font-size="7.18" letter-spacing="0.3">5/2</tspan></text>
<text x="189.80" y="141.70" fill="#990099" style="font-family:'Liberation Sans',Arial,sans-serif;font-weight:bold;font-size:9.60px" stroke="#990099">Nd<tspan dx="0.6" dy="-4.80" font-size="7.10">3+</tspan><tspan dy="4.80">:</tspan><tspan dx="2.6" dy="-4.80" font-size="7.10">4</tspan><tspan dy="4.80">I</tspan><tspan dy="2.88" font-size="7.10" letter-spacing="0.3">9/2</tspan><tspan dx="1.2" dy="-4.28" font-size="12.67">&#8594;</tspan><tspan dx="0.9" dy="-3.40" font-size="7.10">4</tspan><tspan dy="4.80">F</tspan><tspan dy="2.88" font-size="7.10" letter-spacing="0.3">3/2</tspan></text>
<text x="254.30" y="195.60" fill="#990000" style="font-family:'Liberation Sans',Arial,sans-serif;font-weight:bold;font-size:9.90px" stroke="#990000">Yb<tspan dx="0.6" dy="-4.95" font-size="7.33">3+</tspan><tspan dy="4.95">:</tspan><tspan dx="2.6" dy="-4.95" font-size="7.33">2</tspan><tspan dy="4.95">F</tspan><tspan dy="2.97" font-size="7.33" letter-spacing="0.3">7/2</tspan><tspan dx="1.2" dy="-4.37" font-size="13.07">&#8594;</tspan><tspan dx="0.9" dy="-3.55" font-size="7.33">2</tspan><tspan dy="4.95">F</tspan><tspan dy="2.97" font-size="7.33" letter-spacing="0.3">5/2</tspan></text>
<text x="225.00" y="332.50" fill="#990000" style="font-family:'Liberation Sans',Arial,sans-serif;font-weight:bold;font-size:9.85px" stroke="#990000">Yb<tspan dx="0.6" dy="-4.92" font-size="7.29">3+</tspan><tspan dy="4.92">:</tspan><tspan dx="2.6" dy="-4.92" font-size="7.29">2</tspan><tspan dy="4.92">F</tspan><tspan dy="2.95" font-size="7.29" letter-spacing="0.3">5/2</tspan><tspan dx="1.2" dy="-4.35" font-size="13.00">&#8594;</tspan><tspan dx="0.9" dy="-3.52" font-size="7.29">2</tspan><tspan dy="4.92">F</tspan><tspan dy="2.95" font-size="7.29" letter-spacing="0.3">7/2</tspan></text>
<text x="79.20" y="455.90" fill="#990099" style="font-family:'Liberation Sans',Arial,sans-serif;font-weight:bold;font-size:10.00px" stroke="#990099">Nd<tspan dx="0.6" dy="-5.00" font-size="7.40">3+</tspan><tspan dy="5.00">:</tspan><tspan dx="2.6" dy="-5.00" font-size="7.40">4</tspan><tspan dy="5.00">F</tspan><tspan dy="3.00" font-size="7.40" letter-spacing="0.3">3/2</tspan><tspan dx="1.2" dy="-4.40" font-size="13.20">&#8594;</tspan><tspan dx="0.9" dy="-3.60" font-size="7.40">4</tspan><tspan dy="5.00">I</tspan><tspan dy="3.00" font-size="7.40" letter-spacing="0.3">9/2</tspan></text>
<rect x="219.4" y="18.3" width="128.1" height="92.0" fill="#fff" stroke="#000" stroke-width="0.9"/>
<path d="M219.4,110.30h2.5M219.4,103.17h1.4M219.4,96.04h2.5M219.4,88.90h1.4M219.4,81.77h2.5M219.4,74.64h1.4M219.4,67.51h2.5M219.4,60.38h1.4M219.4,53.25h2.5M219.4,46.11h1.4M219.4,38.98h2.5M219.4,31.85h1.4M219.4,24.72h2.5M219.40,110.3v-2.5M231.05,110.3v-1.4M242.69,110.3v-2.5M254.34,110.3v-1.4M265.98,110.3v-2.5M277.63,110.3v-1.4M289.27,110.3v-2.5M300.92,110.3v-1.4M312.56,110.3v-2.5M324.21,110.3v-1.4M335.85,110.3v-2.5M347.50,110.3v-1.4" stroke="#000" stroke-width="0.7" fill="none"/>
<text x="216.6" y="112.40" text-anchor="end" class="ni" style="font-family:'Liberation Sans',Arial,sans-serif;font-weight:bold;font-size:6px">0.0</text>
<text x="216.6" y="98.14" text-anchor="end" class="ni" style="font-family:'Liberation Sans',Arial,sans-serif;font-weight:bold;font-size:6px">0.1</text>
<text x="216.6" y="83.87" text-anchor="end" class="ni" style="font-family:'Liberation Sans',Arial,sans-serif;font-weight:bold;font-size:6px">0.2</text>
<text x="216.6" y="69.61" text-anchor="end" class="ni" style="font-family:'Liberation Sans',Arial,sans-serif;font-weight:bold;font-size:6px">0.3</text>
<text x="216.6" y="55.35" text-anchor="end" class="ni" style="font-family:'Liberation Sans',Arial,sans-serif;font-weight:bold;font-size:6px">0.4</text>
<text x="216.6" y="41.08" text-anchor="end" class="ni" style="font-family:'Liberation Sans',Arial,sans-serif;font-weight:bold;font-size:6px">0.5</text>
<text x="216.6" y="26.82" text-anchor="end" class="ni" style="font-family:'Liberation Sans',Arial,sans-serif;font-weight:bold;font-size:6px">0.6</text>
<text x="219.40" y="116.6" text-anchor="middle" class="ni" style="font-family:'Liberation Sans',Arial,sans-serif;font-weight:bold;font-size:6px">0</text>
<text x="242.69" y="116.6" text-anchor="middle" class="ni" style="font-family:'Liberation Sans',Arial,sans-serif;font-weight:bold;font-size:6px">10</text>
<text x="265.98" y="116.6" text-anchor="middle" class="ni" style="font-family:'Liberation Sans',Arial,sans-serif;font-weight:bold;font-size:6px">20</text>
<text x="289.27" y="116.6" text-anchor="middle" class="ni" style="font-family:'Liberation Sans',Arial,sans-serif;font-weight:bold;font-size:6px">30</text>
<text x="312.56" y="116.6" text-anchor="middle" class="ni" style="font-family:'Liberation Sans',Arial,sans-serif;font-weight:bold;font-size:6px">40</text>
<text x="335.85" y="116.6" text-anchor="middle" class="ni" style="font-family:'Liberation Sans',Arial,sans-serif;font-weight:bold;font-size:6px">50</text>
<text transform="translate(206.2,99) rotate(-90)" style="font-family:'Liberation Sans',Arial,sans-serif;font-weight:bold;font-size:8px" stroke="#000">Absorbance (a.u.)</text>
<text x="231.0" y="126" style="font-family:'Liberation Sans',Arial,sans-serif;font-weight:bold;font-size:8.35px" stroke="#000">Nd<tspan dy="-3" font-size="5.5">3+</tspan><tspan dy="3"> concentration (mol%)</tspan></text>
<rect x="241.29" y="90.36" width="2.8" height="2.8" fill="#990099"/>
<rect x="264.58" y="72.81" width="2.8" height="2.8" fill="#990099"/>
<rect x="276.23" y="66.39" width="2.8" height="2.8" fill="#990099"/>
<rect x="287.87" y="58.98" width="2.8" height="2.8" fill="#990099"/>
<rect x="311.16" y="45.14" width="2.8" height="2.8" fill="#990099"/>
<rect x="334.45" y="25.17" width="2.8" height="2.8" fill="#990099"/>
</svg>
</body></html>
